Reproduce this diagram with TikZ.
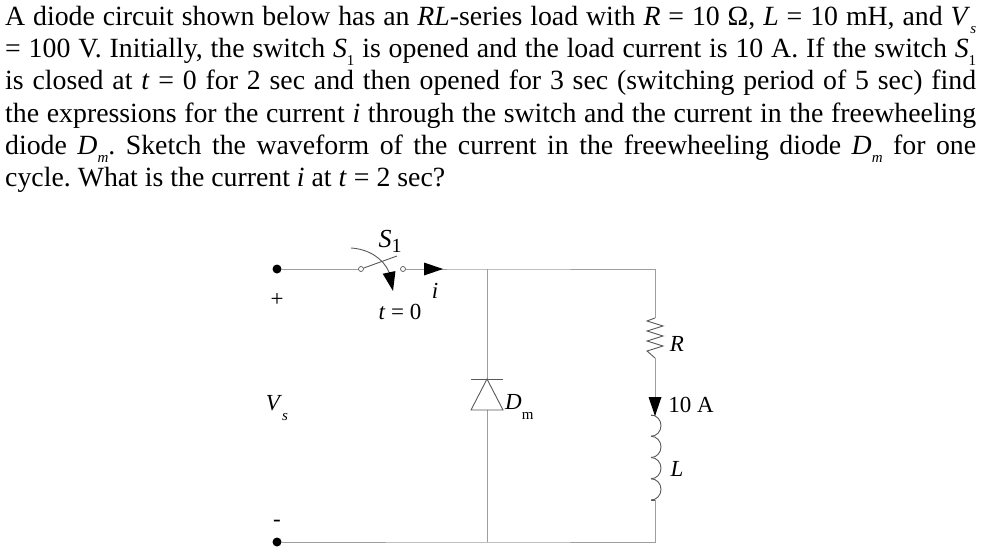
\documentclass[tikz,border=0pt]{standalone}
\usepackage{fontspec}
\setmainfont{Liberation Serif}
\usetikzlibrary{arrows.meta, positioning}
\definecolor{wiregray}{gray}{0.62}
\newcommand{\lowidx}[1]{\raisebox{-0.28em}{\fontsize{15}{15}\selectfont #1}}
\newcommand{\lowlab}[1]{\raisebox{-0.42em}{\fontsize{15}{15}\selectfont #1}}
\tikzstyle{wire} = [
    draw=wiregray,
    line width=1pt
]
\tikzstyle{element} = [
    draw=black!65,
    line width=0.9pt
]
\tikzstyle{terminal} = [
    circle,
    fill=black,
    inner sep=0pt,
    minimum size=9pt
]
\tikzstyle{contact} = [
    circle,
    draw=black!65,
    fill=white,
    line width=0.7pt,
    inner sep=0pt,
    minimum size=5pt
]
\tikzstyle{currenttip} = [
    line width=0pt,
    -{Triangle[length=19pt,width=13pt]}
]
\tikzstyle{problem} = [
    anchor=north west,
    inner sep=0pt,
    text width=971pt,
    align=justify,
    font=\fontsize{27.8}{32.2}\selectfont\frenchspacing
]
\tikzstyle{lab} = [
    inner sep=0pt,
    font=\fontsize{23}{23}\selectfont
]

\begin{document}
\begin{tikzpicture}[x=1pt,y=-1pt]
\useasboundingbox (0,0) rectangle (981,551);

\node (text) [problem] at (5,6) {A diode circuit shown below has an \textit{RL}-series load with \textit{R} = 10~Ω, \textit{L} = 10 mH, and \textit{V}\lowidx{\textit{s}}\linebreak
= 100 V. Initially, the switch \textit{S}\lowidx{1} is opened and the load current is 10 A. If the switch \textit{S}\lowidx{1}\linebreak
is closed at \textit{t} = 0 for 2 sec and then opened for 3 sec (switching period of 5 sec) find\linebreak
the expressions for the current \textit{i} through the switch and the current in the freewheeling\linebreak
diode \textit{D}\lowidx{\textit{m}}. Sketch the waveform of the current in the freewheeling diode \textit{D}\lowidx{\textit{m}} for one\linebreak
cycle. What is the current \textit{i} at \textit{t} = 2 sec?};

% source side
\node (top) [terminal] at (277,269) {};
\node (bot) [terminal] at (277,542) {};
\node (swa) [contact] at (361,269) {};
\node (swb) [contact] at (403,269) {};
\coordinate (blade) at (397,256);
\coordinate (junc) at (487,269);
\coordinate (corner) at (655,269);
\coordinate (juncb) at (487,542);
\coordinate (cornerb) at (655,542);

% diode
\coordinate (cath) at (487,379);
\coordinate (anode) at (487,410);
\coordinate (cathl) at (471,379);
\coordinate (cathr) at (503,379);
\coordinate (anl) at (471,410);
\coordinate (anr) at (503,410);

% load
\coordinate (ra) at (655,318);
\coordinate (rb) at (655,358);
\coordinate (la) at (655,415);
\coordinate (lb) at (655,500);

\draw [wire] (top) -- (swa);
\draw [wire] (swb) -- (junc) -- (corner) -- (ra);
\draw [wire] (rb) -- (la);
\draw [wire] (lb) -- (cornerb) -- (juncb) -- (bot);
\draw [wire] (junc) -- (cath);
\draw [wire] (anode) -- (juncb);

\draw [element] (swa) -- (blade);
\draw [element] (cathl) -- (cathr);
\draw [element] (anl) -- (anr) -- (cath) -- cycle;

% resistor
\draw [element] (ra) -- ++(-8,3) -- ++(16,5) -- ++(-16,5) -- ++(16,5) -- ++(-16,5) -- ++(16,5) -- ++(-16,5) -- ++(8,7);

% inductor
\draw [element] (la) -- ++(-4,0);
\foreach \k in {0,1,2,3} {
    \draw [element] (651,415+21.25*\k) arc [start angle=-90, end angle=90, x radius=10, y radius=10.62];
}
\draw [element] (lb) -- ++(-4,0);

% switch handle and current marks
\coordinate (swarc) at (351,248);
\coordinate (swtip) at (393,291);
\coordinate (swbase) at (389,272);
\draw [element] (swarc) .. controls (368,249) and (383,258) .. (swbase);
\draw [currenttip] (swbase) -- (swtip);
\coordinate (ibase) at (424,269);
\coordinate (itip) at (443,269);
\draw [currenttip] (ibase) -- (itip);
\coordinate (rbase) at (655,397);
\coordinate (rtip) at (655,416);
\draw [currenttip] (rbase) -- (rtip);

\node (sone) [lab, font=\fontsize{26}{26}\selectfont] at (390,241) {\textit{S}\raisebox{-0.2em}{\fontsize{20}{20}\selectfont 1}};
\node (icur) [lab] at (435,291) {\textit{i}};
\node (tzero) [lab] at (400,312) {\textit{t} = 0};
\node (plus) [lab] at (277,300) {+};
\node (vs) [lab] at (277,408) {\textit{V}\lowlab{\textit{s}}};
\node (minus) [lab] at (277,523) {-};
\node (dm) [lab, right=2pt of anr, yshift=3pt] {\textit{D}\lowlab{m}};
\node (rlab) [lab] at (677,344) {\textit{R}};
\node (amps) [lab] at (691,405) {10 A};
\node (llab) [lab] at (677,469) {\textit{L}};

\end{tikzpicture}
\end{document}
